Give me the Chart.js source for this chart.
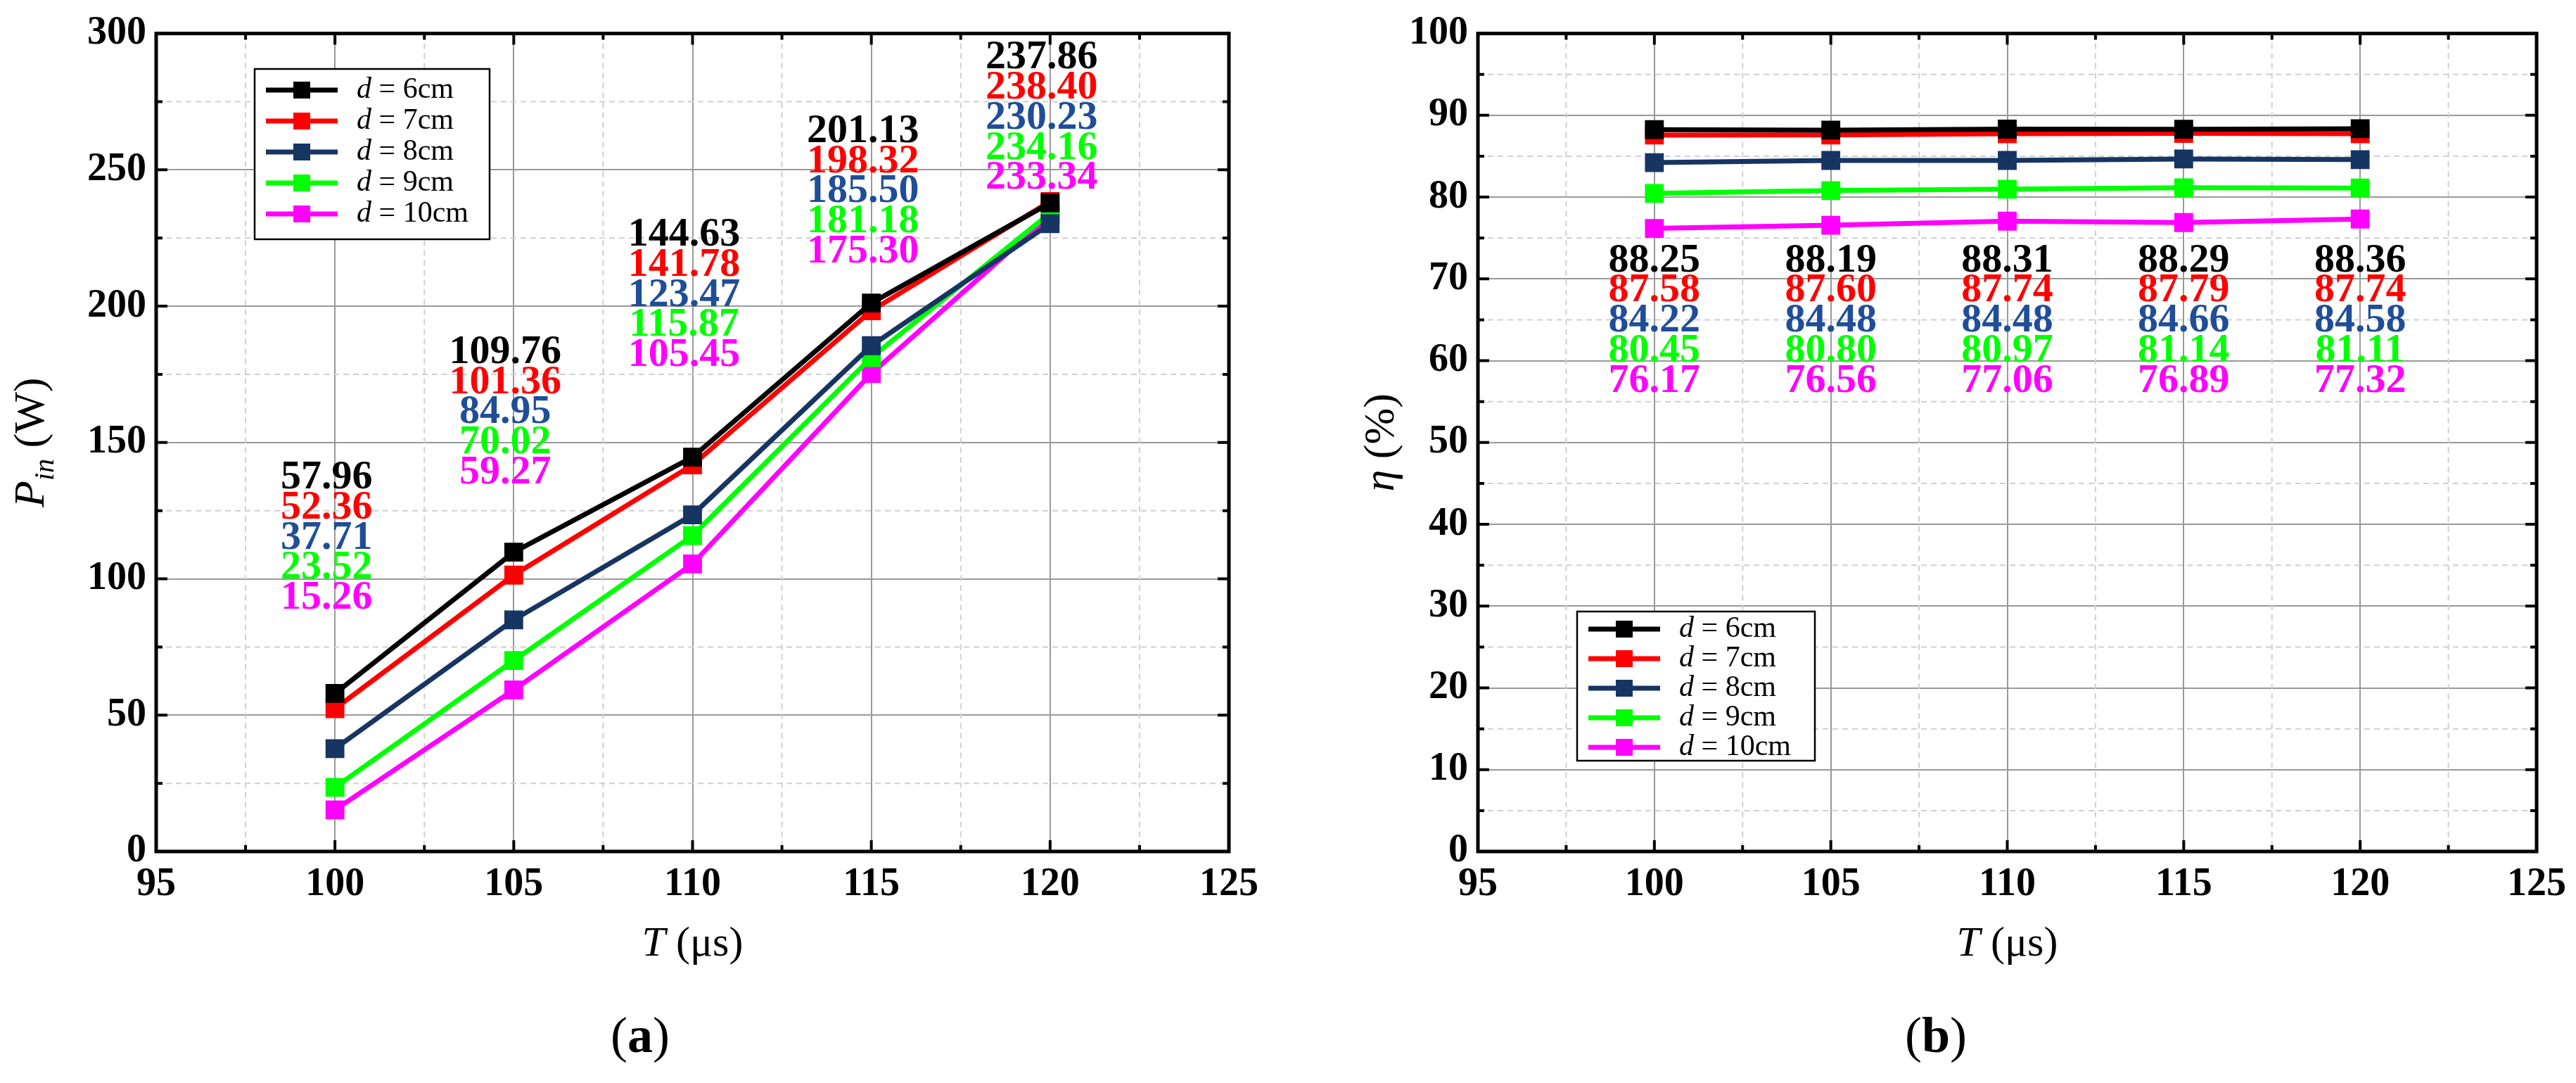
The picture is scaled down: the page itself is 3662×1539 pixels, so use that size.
<!DOCTYPE html>
<html>
<head>
<meta charset="utf-8">
<script src="https://cdn.jsdelivr.net/npm/chart.js@4.4.1/dist/chart.umd.min.js"></script>
<style>
  body { margin: 0; background: #fff; width: 3662px; height: 1539px; position: relative; overflow: hidden; }
  .box { position: absolute; top: 0; width: 1831px; height: 1539px; }
  .cap { position: absolute; top: 1430px; font: 72px "Liberation Serif", serif; transform: translateX(-50%); }
</style>
</head>
<body>
<div class="box" style="left:0"><canvas id="pin"></canvas></div>
<div class="box" style="left:1831px"><canvas id="eta"></canvas></div>
<div class="cap" style="left:910px">(<b>a</b>)</div>
<div class="cap" style="left:2752px">(<b>b</b>)</div>
<script>
const periods = [100, 105, 110, 115, 120];
const names = ["6cm", "7cm", "8cm", "9cm", "10cm"];
const lineColors = ["#000000", "#ff0000", "#173563", "#00ff00", "#ff00ff"];
const textColors = ["#000000", "#ff0000", "#1f4e99", "#00ff00", "#ff00ff"];

const pin6 = [57.96, 109.76, 144.63, 201.13, 237.86];
const pin7 = [52.36, 101.36, 141.78, 198.32, 238.40];
const pin8 = [37.71, 84.95, 123.47, 185.50, 230.23];
const pin9 = [23.52, 70.02, 115.87, 181.18, 234.16];
const pin10 = [15.26, 59.27, 105.45, 175.30, 233.34];

const eta6 = [88.25, 88.19, 88.31, 88.29, 88.36];
const eta7 = [87.58, 87.60, 87.74, 87.79, 87.74];
const eta8 = [84.22, 84.48, 84.48, 84.66, 84.58];
const eta9 = [80.45, 80.80, 80.97, 81.14, 81.11];
const eta10 = [76.17, 76.56, 77.06, 76.89, 77.32];

const serif = '"Liberation Serif", "DejaVu Serif", serif';

function makeChart(id, series, yMax, yStep, yMinor, opt) {
  const datasets = series.map((vals, i) => ({
    data: periods.map((p, k) => ({ x: p, y: vals[k] })),
    borderColor: lineColors[i],
    backgroundColor: lineColors[i],
    borderWidth: 7,
    pointStyle: 'rect',
    pointRadius: 14,
    pointHoverRadius: 14
  }));

  const deco = {
    id: 'deco',
    beforeDatasetsDraw(chart) {
      const { ctx, chartArea: a, scales: { x, y } } = chart;
      ctx.save();
      ctx.strokeStyle = '#d0d0d0';
      ctx.lineWidth = 2;
      ctx.setLineDash([8, 6]);
      for (let v = 97.5; v < 125; v += 5) {
        const px = x.getPixelForValue(v);
        ctx.beginPath(); ctx.moveTo(px, a.top); ctx.lineTo(px, a.bottom); ctx.stroke();
      }
      for (let v = yMinor; v < yMax; v += yStep) {
        const py = y.getPixelForValue(v);
        ctx.beginPath(); ctx.moveTo(a.left, py); ctx.lineTo(a.right, py); ctx.stroke();
      }
      ctx.restore();
    },
    afterDatasetsDraw(chart) {
      const { ctx, chartArea: a, scales: { x, y } } = chart;
      ctx.save();
      // data labels
      ctx.font = 'bold 58px ' + serif;
      ctx.textAlign = 'center';
      ctx.textBaseline = 'middle';
      periods.forEach((p, k) => {
        series.forEach((vals, i) => {
          ctx.fillStyle = textColors[i];
          const py = y.getPixelForValue(opt.labelTop[k]) + i * 42.7;
          ctx.fillText(vals[k].toFixed(2), x.getPixelForValue(p) + opt.labelDx, py);
        });
      });
      // frame and inward ticks
      ctx.strokeStyle = '#000';
      ctx.lineWidth = 5;
      ctx.strokeRect(a.left, a.top, a.right - a.left, a.bottom - a.top);
      ctx.lineWidth = 4;
      for (let v = 95; v <= 125; v += 2.5) {
        const px = x.getPixelForValue(v);
        const len = v % 5 === 0 ? 16 : 9;
        ctx.beginPath();
        ctx.moveTo(px, a.bottom); ctx.lineTo(px, a.bottom - len);
        ctx.moveTo(px, a.top); ctx.lineTo(px, a.top + len);
        ctx.stroke();
      }
      for (let v = 0; v <= yMax; v += yStep / 2) {
        const py = y.getPixelForValue(v);
        const len = Math.abs(v / yStep - Math.round(v / yStep)) < 1e-6 ? 16 : 9;
        ctx.beginPath();
        ctx.moveTo(a.left, py); ctx.lineTo(a.left + len, py);
        ctx.moveTo(a.right, py); ctx.lineTo(a.right - len, py);
        ctx.stroke();
      }
      // legend
      const L = opt.legend;
      ctx.fillStyle = '#fff';
      ctx.fillRect(L.x, L.y, L.w, L.h);
      ctx.lineWidth = 2.5;
      ctx.strokeRect(L.x, L.y, L.w, L.h);
      ctx.textAlign = 'left';
      names.forEach((n, i) => {
        const ry = L.y + L.first + i * L.gap;
        ctx.strokeStyle = lineColors[i];
        ctx.fillStyle = lineColors[i];
        ctx.lineWidth = 7;
        ctx.beginPath(); ctx.moveTo(L.x + 16, ry); ctx.lineTo(L.x + 118, ry); ctx.stroke();
        ctx.fillRect(L.x + 67 - 12, ry - 12, 24, 24);
        ctx.fillStyle = '#000';
        ctx.font = 'italic 42px ' + serif;
        ctx.fillText('d', L.x + 145, ry);
        const w = ctx.measureText('d').width;
        ctx.font = '42px ' + serif;
        ctx.fillText(' = ' + n, L.x + 145 + w, ry);
      });
      // x title: T (μs)
      ctx.fillStyle = '#000';
      ctx.textBaseline = 'alphabetic';
      const cx = (a.left + a.right) / 2;
      ctx.font = 'italic 60px ' + serif;
      const tw = ctx.measureText('T').width;
      ctx.font = '60px ' + serif;
      const rw = ctx.measureText(' (μs)').width;
      const sx = cx - (tw + rw) / 2;
      ctx.font = 'italic 60px ' + serif;
      ctx.fillText('T', sx, a.bottom + 148);
      ctx.font = '60px ' + serif;
      ctx.fillText(' (μs)', sx + tw, a.bottom + 148);
      // y title
      ctx.translate(opt.yTitleX, (a.top + a.bottom) / 2);
      ctx.rotate(-Math.PI / 2);
      const parts = opt.yTitle;
      let total = 0;
      parts.forEach(s => { ctx.font = s.f + ' ' + serif; total += ctx.measureText(s.t).width; });
      let px = -total / 2;
      parts.forEach(s => {
        ctx.font = s.f + ' ' + serif;
        ctx.fillText(s.t, px, s.dy || 0);
        px += ctx.measureText(s.t).width;
      });
      ctx.restore();
    }
  };

  return new Chart(document.getElementById(id), {
    type: 'line',
    data: { datasets },
    options: {
      responsive: false,
      animation: false,
      layout: { padding: { top: 42, right: opt.padRight, bottom: 200, left: 0 } },
      plugins: { legend: { display: false }, tooltip: { enabled: false } },
      scales: {
        x: {
          type: 'linear', min: 95, max: 125,
          ticks: { stepSize: 5, color: '#000', font: { family: serif, size: 56, weight: 'bold' }, padding: 14 },
          grid: { color: '#999', lineWidth: 2, drawTicks: false },
          border: { display: false },
          afterFit(s) { s.height = 1539 - 1210 - 200; }
        },
        y: {
          min: 0, max: yMax,
          ticks: { stepSize: yStep, color: '#000', font: { family: serif, size: 56, weight: 'bold' }, padding: 14 },
          grid: { color: '#999', lineWidth: 2, drawTicks: false },
          border: { display: false },
          afterFit(s) { s.width = opt.yWidth; }
        }
      }
    },
    plugins: [deco]
  });
}

function sizeCanvas(id) {
  const c = document.getElementById(id);
  c.width = 1831; c.height = 1539;
  c.style.width = '1831px'; c.style.height = '1539px';
}
sizeCanvas('pin'); sizeCanvas('eta');

makeChart('pin', [pin6, pin7, pin8, pin9, pin10], 300, 50, 25, {
  padRight: 84, yWidth: 222, yTitleX: 62,
  labelTop: [137, 183, 226, 264, 291], labelDx: -12,
  legend: { x: 362, y: 98, w: 334, h: 242, first: 30, gap: 44 },
  yTitle: [{ t: 'P', f: 'italic 62px' }, { t: 'in', f: 'italic 40px', dy: 14 }, { t: ' (W)', f: '62px' }]
});

makeChart('eta', [eta6, eta7, eta8, eta9, eta10], 100, 10, 5, {
  padRight: 31, yWidth: 270, yTitleX: 150,
  labelTop: [72.2, 72.2, 72.2, 72.2, 72.2], labelDx: 0,
  legend: { x: 411, y: 869, w: 338, h: 212, first: 25, gap: 42 },
  yTitle: [{ t: 'η', f: 'italic 62px' }, { t: ' (%)', f: '62px' }]
});
</script>
</body>
</html>
